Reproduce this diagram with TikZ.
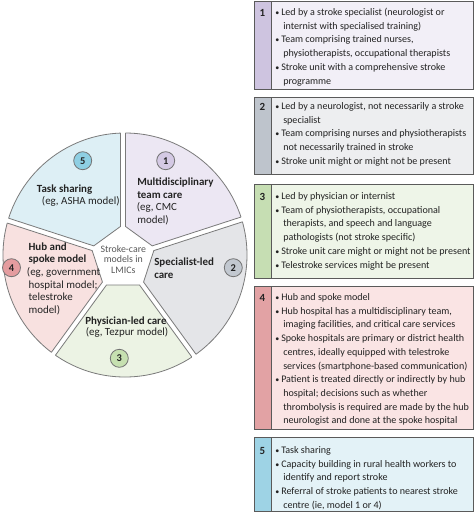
\documentclass[tikz,border=0pt]{standalone}
\usepackage{fontspec}
\setmainfont{Carlito}
\definecolor{txt}{HTML}{232323}
\definecolor{edge}{HTML}{7A7A7A}
\definecolor{boxedge}{HTML}{5A5A5A}
\definecolor{s1}{HTML}{ECE7F3}
\definecolor{s2}{HTML}{E4E5E8}
\definecolor{s3}{HTML}{ECF3E4}
\definecolor{s4}{HTML}{F8E1E0}
\definecolor{s5}{HTML}{DDEFF5}
\definecolor{c1}{HTML}{D4C9E4}
\definecolor{c2}{HTML}{C2C8D0}
\definecolor{c3}{HTML}{C6E0B0}
\definecolor{c4}{HTML}{E49C9F}
\definecolor{c5}{HTML}{8ECFE3}
\definecolor{k1}{HTML}{CEC4E0}
\definecolor{k2}{HTML}{BEC4CC}
\definecolor{k3}{HTML}{C6DEB3}
\definecolor{k4}{HTML}{E2A2A4}
\definecolor{k5}{HTML}{9ED3E5}
\definecolor{b1}{HTML}{F2EFF7}
\definecolor{b2}{HTML}{EDEEF0}
\definecolor{b3}{HTML}{EEF5E8}
\definecolor{b4}{HTML}{FAE4E4}
\definecolor{b5}{HTML}{E3F2F7}
\newcommand\bulletline[3]{\node[btxt] (#1) at (275,#2) {{\fontsize{6}{6}\selectfont •}\hspace{1.5pt}#3};}
\newcommand\contline[3]{\node[btxt] (#1) at (283,#2) {#3};}
\newcommand\modelbox[7]{%
  \path[fill=#5] (254,#2) rectangle (473,#3);
  \path[fill=#4] (254,#2) rectangle (271,#3);
  \draw[boxline] (271,#2) -- (271,#3);
  \draw[boxline] (254,#2) rectangle (473,#3);
  \node[numtxt] (#1) at (262.5,#7) {#6};}
\begin{document}
\begin{tikzpicture}[x=0.75pt,y=-0.75pt,
  btxt/.style={anchor=west, inner sep=0pt, font=\fontsize{7.55}{10}\selectfont, text height=5.4pt, text depth=1.6pt, text=txt},
  numtxt/.style={inner sep=0pt, font=\fontsize{8.2}{10}\selectfont\bfseries, text=txt},
  ptxt/.style={anchor=west, inner sep=0pt, font=\fontsize{8.2}{9}\selectfont, text height=5.7pt, text depth=1.7pt, text=txt},
  ptitle/.style={ptxt, font=\fontsize{8.2}{9}\selectfont\bfseries},
  ctxt/.style={inner sep=0pt, font=\fontsize{7.4}{9}\selectfont, text height=5.3pt, text depth=1.6pt, text=black!65},
  boxline/.style={draw=boxedge, line width=0.7pt},
  sectoredge/.style={draw=edge, line width=0.6pt},
  badge/.style={circle, draw=black!55, line width=0.6pt, minimum size=13.5pt, inner sep=0pt, font=\fontsize{7.8}{9}\selectfont\bfseries, text=txt}]
\useasboundingbox (0,0) rectangle (474,512);
\fill[white] (0,0) rectangle (474,512);
% ---------- pie ----------
\def\hh{27}\def\ss{2.5}
\begin{scope}[shift={(123,258)}, y=0.75pt]
\foreach \ang/\fc in {54/s1, -18/s2, -90/s3, -162/s4, 126/s5} {
  \pgfmathsetmacro\ti{(\hh - \ss*sin(36))/cos(36)}
  \pgfmathsetmacro\ri{sqrt(\ti*\ti+\ss*\ss)}
  \pgfmathsetmacro\di{atan(\ss/\ti)}
  \pgfmathsetmacro\dfar{atan(\ss/200)}
  \def\rfar{200}
  \begin{scope}
    \clip (2,3) circle[radius=122];
    \filldraw[sectoredge, fill=\fc] ({\ang-36+\di}:\ri) -- ({\ang-36+\dfar}:\rfar) -- ({\ang+36-\dfar}:\rfar) -- ({\ang+36-\di}:\ri) -- cycle;
  \end{scope}
  \begin{scope}
    \clip ({\ang-36+\di}:\ri) -- ({\ang-36+\dfar}:\rfar) -- ({\ang+36-\dfar}:\rfar) -- ({\ang+36-\di}:\ri) -- cycle;
    \draw[sectoredge] (2,3) circle[radius=122];
  \end{scope}
}
\end{scope}
\node[badge, fill=c1] (p1) at (165.7,160.7) {1};
\node[badge, fill=c2] (p2) at (233.3,267.7) {2};
\node[badge, fill=c3] (p3) at (119.3,358.3) {3};
\node[badge, fill=c4] (p4) at (11.5,267.7) {4};
\node[badge, fill=c5] (p5) at (82.7,160.7) {5};
% sector labels
\node[ptitle] (l1a) at (137,183.3) {Multidisciplinary};
\node[ptitle] (l1b) at (137,195.7) {team care};
\node[ptxt] (l1c) at (136.5,208.3) {(eg, CMC};
\node[ptxt] (l1d) at (137,221) {model)};
\node[ptitle] (l2a) at (154,263.3) {Specialist-led};
\node[ptitle] (l2b) at (154,275.5) {care};
\node[ptitle] (l3a) at (85,321.7) {Physician-led care};
\node[ptxt] (l3b) at (85.5,332.7) {(eg, Tezpur model)};
\node[ptitle] (l4a) at (28.3,248.3) {Hub and};
\node[ptitle] (l4b) at (28.3,260.3) {spoke model};
\node[ptxt] (l4c) at (26.7,272.7) {(eg, government};
\node[ptxt] (l4d) at (28.3,285.7) {hospital model;};
\node[ptxt] (l4e) at (28.3,298.3) {telestroke};
\node[ptxt] (l4f) at (28.3,310.7) {model)};
\node[ptitle] (l5a) at (36.7,190) {Task sharing};
\node[ptxt] (l5b) at (41.7,201.7) {(eg, ASHA model)};
\node[ctxt] (cen1) at (123.3,250) {Stroke-care};
\node[ctxt] (cen2) at (123.3,260.5) {models in};
\node[ctxt] (cen3) at (123.3,271) {LMICs};
% ---------- boxes ----------
\modelbox{n1}{1.5}{89}{k1}{b1}{1}{13}
\bulletline{t11}{13}{Led by a stroke specialist (neurologist or}
\contline{t12}{26.7}{internist with specialised training)}
\bulletline{t13}{40.4}{Team comprising trained nurses,}
\contline{t14}{54.1}{physiotherapists, occupational therapists}
\bulletline{t15}{67.8}{Stroke unit with a comprehensive stroke}
\contline{t16}{81.5}{programme}
\modelbox{n2}{97}{174}{k2}{b2}{2}{107}
\bulletline{t21}{107}{Led by a neurologist, not necessarily a stroke}
\contline{t22}{120.7}{specialist}
\bulletline{t23}{134.4}{Team comprising nurses and physiotherapists}
\contline{t24}{148.1}{not necessarily trained in stroke}
\bulletline{t25}{161.8}{Stroke unit might or might not be present}
\modelbox{n3}{184}{278}{k3}{b3}{3}{197}
\bulletline{t31}{197}{Led by physician or internist}
\bulletline{t32}{210.7}{Team of physiotherapists, occupational}
\contline{t33}{224.4}{therapists, and speech and language}
\contline{t34}{238.1}{pathologists (not stroke specific)}
\bulletline{t35}{251.8}{Stroke unit care might or might not be present}
\bulletline{t36}{265.5}{Telestroke services might be present}
\modelbox{n4}{286}{429}{k4}{b4}{4}{298}
\bulletline{t41}{298}{Hub and spoke model}
\bulletline{t42}{311.7}{Hub hospital has a multidisciplinary team,}
\contline{t43}{325.4}{imaging facilities, and critical care services}
\bulletline{t44}{339.1}{Spoke hospitals are primary or district health}
\contline{t45}{352.8}{centres, ideally equipped with telestroke}
\contline{t46}{366.5}{services (smartphone-based communication)}
\bulletline{t47}{380.2}{Patient is treated directly or indirectly by hub}
\contline{t48}{393.9}{hospital; decisions such as whether}
\contline{t49}{407.6}{thrombolysis is required are made by the hub}
\contline{t410}{421.3}{neurologist and done at the spoke hospital}
\modelbox{n5}{437}{511}{k5}{b5}{5}{451}
\bulletline{t51}{451}{Task sharing}
\bulletline{t52}{464.7}{Capacity building in rural health workers to}
\contline{t53}{478.4}{identify and report stroke}
\bulletline{t54}{492.1}{Referral of stroke patients to nearest stroke}
\contline{t55}{505.8}{centre (ie, model 1 or 4)}
\end{tikzpicture}
\end{document}
